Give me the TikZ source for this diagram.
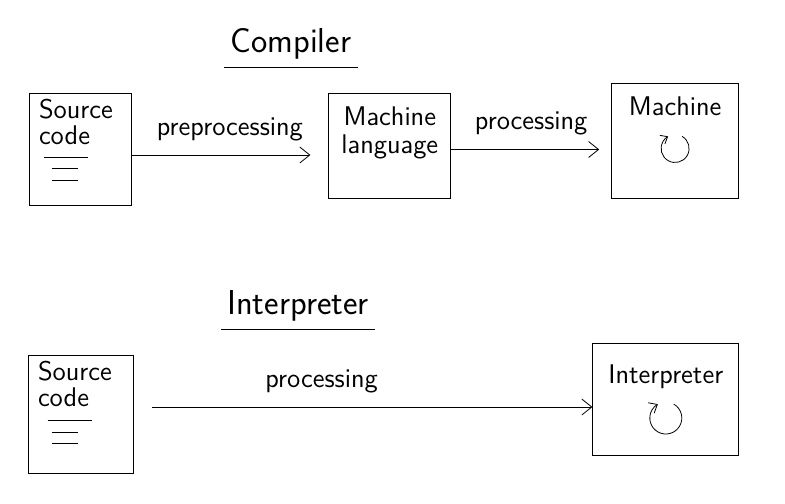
\documentclass[tikz,border=0pt]{standalone}
\usetikzlibrary{arrows.meta,calc,positioning}
\tikzset{
    auto,line width=1.4pt,
    box/.style ={rectangle, draw, inner sep=0pt},
    doc/.style ={box, minimum width=51pt, minimum height=56pt},
    flow/.style={-{Straight Barb[length=5pt,width=8pt]}},
    el/.style = {inner sep=2pt, font=\sffamily\fontsize{13.5}{15}\selectfont},
    title/.style = {inner sep=1pt, font=\sffamily\LARGE},
    inside/.style = {align=left, inner sep=5pt, font=\sffamily\fontsize{13.5}{14}\selectfont}
}

\begin{document}
\begin{tikzpicture}[x=0.5pt,y=-0.5pt]
    \useasboundingbox (0,0) rectangle (785,503);

    % Compiler
    \node[title] (comp) at (291,44) {Compiler};
    \draw ([xshift=-2pt,yshift=-3pt]comp.south west) -- ([xshift=2pt,yshift=-3pt]comp.south east);

    \node[doc,label={[inside,anchor=north west,yshift=2pt]north west:Source\\[-1pt]code}] (src1) at (80,149) {};
    \node[box, minimum width=61pt, minimum height=52.5pt,
          label={[inside,align=center,anchor=north,inner sep=7pt]north:Machine\\language}]
          (ml) [right = 98.5pt of src1, yshift=1.75pt] {};
    \node[box, minimum width=63.5pt, minimum height=57.5pt,
          label={[inside,anchor=north,inner sep=7pt]north:Machine}]
          (mach) [right = 80pt of ml, yshift=2.5pt] {};

    % code lines
    \draw ($(src1.north west)+(15,65)$) -- ++(44,0);
    \draw ($(src1.north west)+(23,76)$) -- ++(26,0);
    \draw ($(src1.north west)+(23,88)$) -- ++(26,0);

    % cycle
    \draw[-{Straight Barb[length=3pt,width=5pt]}] ([yshift=-4pt]mach.center) ++(60:7pt)
        arc[start angle=60, end angle=-240, radius=7pt];

    \draw[flow, shorten >=9pt] ([yshift=-3pt]src1.east) -- ([yshift=-3pt]src1.east -| ml.west)
        node[el, midway, above=5pt] {preprocessing};
    \draw[flow, shorten >=6pt] ([yshift=-2pt]ml.east) -- ([yshift=-2pt]ml.east -| mach.west)
        node[el, midway, above=5pt] {processing};

    % Interpreter
    \node[title] (intp) at (298,306) {Interpreter};
    \draw ([xshift=-2pt,yshift=-3pt]intp.south west) -- ([xshift=2pt,yshift=-3pt]intp.south east);

    \node[doc, minimum width=52.5pt, minimum height=59pt,
          label={[inside,anchor=north west,yshift=2pt]north west:Source\\[-1pt]code}] (src2) at (80.5,414) {};
    \node[box, minimum width=73pt, minimum height=56pt,
          label={[inside,anchor=north,inner sep=11pt]north:Interpreter}]
          (interp) [right = 229.5pt of src2, yshift=7.5pt] {};

    % code lines
    \draw ($(src2.north west)+(20,66)$) -- ++(44,0);
    \draw ($(src2.north west)+(24,78)$) -- ++(26,0);
    \draw ($(src2.north west)+(24,89)$) -- ++(26,0);

    % cycle
    \draw[-{Straight Barb[length=3.5pt,width=6pt]}] ([yshift=-9.5pt]interp.center) ++(60:8pt)
        arc[start angle=60, end angle=-240, radius=8pt];

    \draw[flow, shorten <=9.5pt] ([yshift=3.5pt]src2.east) -- ([yshift=3.5pt]src2.east -| interp.west)
        node[el, pos=0.41, above=5pt] {processing};

\end{tikzpicture}
\end{document}
